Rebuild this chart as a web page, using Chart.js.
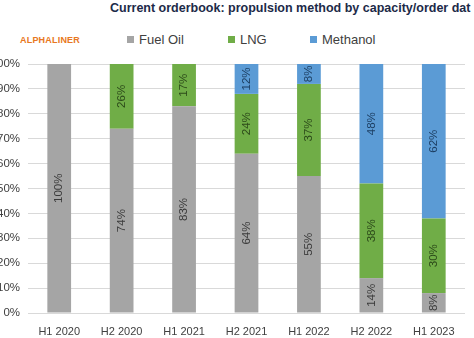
<!DOCTYPE html>
<html>
<head>
<meta charset="utf-8">
<script src="https://cdn.jsdelivr.net/npm/chart.js@4.4.0/dist/chart.umd.min.js"></script>
<style>
  body { margin: 0; background: #fff; width: 474px; height: 338px; overflow: hidden; position: relative; font-family: "Liberation Sans", Arial, sans-serif; }
  #title { position: absolute; left: 110px; top: 1px; white-space: nowrap; font-weight: bold; font-size: 12.5px; color: #1c2a48; }
  #brand { position: absolute; left: 20px; top: 35px; font-weight: bold; font-size: 9px; color: #e87722; letter-spacing: 0.2px; }
  #legend { position: absolute; top: 32px; left: 0; font-size: 13px; color: #404040; }
  #legend span.item { position: absolute; white-space: nowrap; }
  #legend span.box { display: inline-block; width: 7px; height: 7px; margin-right: 5px; vertical-align: 1px; }
  #wrap { position: absolute; left: -12px; top: 0; width: 486px; height: 338px; }
</style>
</head>
<body>
<div id="title">Current orderbook: propulsion method by capacity/order dat</div>
<div id="brand">ALPHALINER</div>
<div id="legend"></div>
<div id="wrap"><canvas id="chart"></canvas></div>
<script>
var categories = ['H1 2020', 'H2 2020', 'H1 2021', 'H2 2021', 'H1 2022', 'H2 2022', 'H1 2023'];
var fuelOil = [100, 74, 83, 64, 55, 14, 8];
var lng = [0, 26, 17, 24, 37, 38, 30];
var methanol = [0, 0, 0, 12, 8, 48, 62];
var yTicks = [0, 10, 20, 30, 40, 50, 60, 70, 80, 90, 100];

var SERIES = [
    {label: 'Fuel Oil', data: fuelOil, color: '#a5a5a5', text: '#3a3a3a'},
    {label: 'LNG', data: lng, color: '#70ad47', text: '#2c4a1a'},
    {label: 'Methanol', data: methanol, color: '#5b9bd5', text: '#1d3f63'}
];
var LEGEND_X = [127, 228, 310];

// rotated value labels in the middle of each segment
var barLabels = {
    id: 'barLabels',
    afterDatasetsDraw: function(chart) {
        var ctx = chart.ctx;
        ctx.save();
        ctx.font = '11.5px "Liberation Sans", Arial, sans-serif';
        ctx.textAlign = 'center';
        ctx.textBaseline = 'middle';
        chart.data.datasets.forEach(function(ds, di) {
            var meta = chart.getDatasetMeta(di);
            meta.data.forEach(function(bar, i) {
                var v = ds.data[i];
                if (!v) return;
                var y = (bar.y + bar.base) / 2;
                ctx.save();
                ctx.translate(bar.x, y);
                ctx.rotate(-Math.PI / 2);
                ctx.fillStyle = SERIES[di].text;
                ctx.fillText(v + '%', 0, 0);
                ctx.restore();
            });
        });
        ctx.restore();
    }
};

var chart = new Chart(document.getElementById('chart'), {
    type: 'bar',
    data: {
        labels: categories,
        datasets: SERIES.map(function(s) {
            return {label: s.label, data: s.data, backgroundColor: s.color,
                    barPercentage: 0.38, categoryPercentage: 1.0};
        })
    },
    options: {
        responsive: true,
        maintainAspectRatio: false,
        animation: false,
        layout: {padding: {top: 64, right: 9, left: 0, bottom: 0}},
        plugins: {legend: {display: false}, tooltip: {enabled: false}},
        scales: {
            x: {
                stacked: true,
                grid: {display: false},
                border: {display: false},
                ticks: {color: '#404040', font: {size: 11, family: '"Liberation Sans", Arial, sans-serif'}, padding: 4},
                afterFit: function(scale) { scale.height = 25; }
            },
            y: {
                stacked: true,
                min: 0,
                max: 100,
                afterBuildTicks: function(scale) {
                    scale.ticks = yTicks.map(function(v) { return {value: v}; });
                },
                grid: {color: '#d9d9d9', drawTicks: false},
                border: {display: false},
                ticks: {color: '#404040', font: {size: 11.5, family: '"Liberation Sans", Arial, sans-serif'}, padding: 8,
                        callback: function(v) { return v + '%'; }},
                afterFit: function(scale) { scale.width = 40; }
            }
        }
    },
    plugins: [barLabels]
});

var $legend = document.getElementById('legend');
chart.data.datasets.forEach(function(ds, i) {
    var item = document.createElement('span');
    item.className = 'item';
    item.style.left = LEGEND_X[i] + 'px';
    var box = document.createElement('span');
    box.className = 'box';
    box.style.background = ds.backgroundColor;
    item.appendChild(box);
    item.appendChild(document.createTextNode(ds.label));
    $legend.appendChild(item);
});
</script>
</body>
</html>
